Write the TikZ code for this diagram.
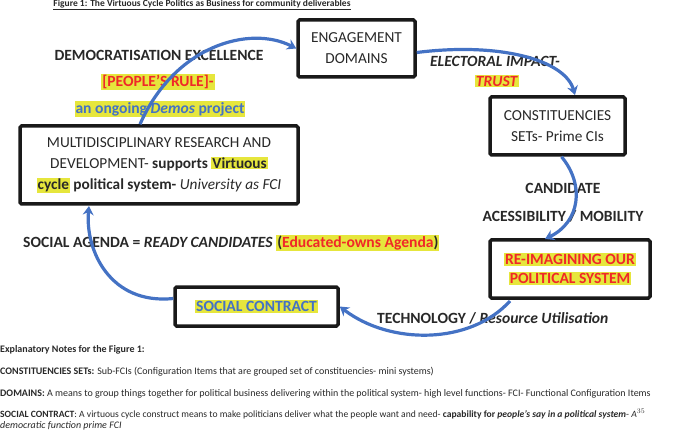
\documentclass[tikz,border=0pt]{standalone}
\usepackage{fontspec}
\setmainfont{Carlito}
\usetikzlibrary{arrows.meta}
\definecolor{hl}{RGB}{230,230,60}
\definecolor{ablue}{RGB}{68,114,196}
\definecolor{tred}{RGB}{240,40,40}
\definecolor{tgray}{RGB}{40,40,40}
\newcommand{\hlt}[1]{\colorbox{hl}{#1}}
\begin{document}
\begin{tikzpicture}[x=1pt,y=-1pt,
  box/.style={draw=black!90,line width=3.5pt,rounded corners=1.5pt,inner sep=0pt,align=center,font=\fontsize{15.3}{21}\selectfont,text=tgray},
  cyc/.style={draw=ablue,line width=3.2pt,-{Stealth[length=9pt,width=11pt]}},
  lab/.style={font=\fontsize{15.6}{18}\selectfont\bfseries,text=tgray,inner sep=0pt},
  note/.style={font=\fontsize{10}{12}\selectfont,anchor=west,inner sep=0pt,text=tgray}]
\useasboundingbox (0,0) rectangle (685,430);
\setlength{\fboxsep}{1pt}
\node[font=\fontsize{9.5}{10}\selectfont\bfseries,text=tgray,inner sep=0pt] (title) at (202,5) {\underline{Figure 1: The Virtuous Cycle Politics as Business for community deliverables}};

\node[box,minimum width=117pt,minimum height=57pt] (eng) at (356.5,48.5) {ENGAGEMENT\\DOMAINS};
\node[box,minimum width=135pt,minimum height=58pt] (con) at (557.5,126) {CONSTITUENCIES\\SETs- Prime CIs};
\node[box,minimum width=278pt,minimum height=78pt] (mul) at (159,165) {MULTIDISCIPLINARY RESEARCH AND\\DEVELOPMENT- \textbf{supports \hlt{Virtuous}}\\\textbf{\hlt{cycle} political system-} \textit{University as FCI}};
\node[box,minimum width=160pt,minimum height=58pt,font=\fontsize{15.6}{19}\selectfont\bfseries] (rei) at (570,269) {\textcolor{tred}{\hlt{RE-IMAGINING OUR}}\\[0pt]\textcolor{tred}{\hlt{POLITICAL SYSTEM}}};
\node[box,minimum width=163pt,minimum height=39pt,font=\fontsize{15.6}{19}\selectfont\bfseries] (soc) at (256.5,306.5) {\textcolor{ablue}{\hlt{SOCIAL CONTRACT}}};

\node[lab] (dem) at (159,55) {DEMOCRATISATION EXCELLENCE};
\node[lab] (peo) at (158,82) {\hlt{\textcolor{tred}{[PEOPLE'S RULE]-}}};
\node[lab] (ong) at (160,109) {\hlt{\textcolor{ablue}{an ongoing \textit{Demos} project}}};
\node[lab] (ele) at (495,61) {\textit{ELECTORAL IMPACT-}};
\node[lab] (tru) at (497,81) {\hlt{\textcolor{tred}{\textit{TRUST}}}};
\node[lab] (can) at (563,188) {CANDIDATE};
\node[lab] (acc) at (563,216) {ACESSIBILITY / MOBILITY};
\node[lab,anchor=west] (sag) at (23,243) {SOCIAL AGENDA = \textit{READY CANDIDATES} \hlt{(\textcolor{tred}{Educated-owns Agenda})}};
\node[lab,anchor=west] (tec) at (377,318) {TECHNOLOGY / \textit{Resource Utilisation}};

\draw[cyc] ([xshift=-19pt]mul.north) .. controls (175,45) and (250,25) .. (eng.west);
\draw[cyc] ([yshift=-4pt]eng.east) .. controls (500,42) and (565,60) .. (575,95);
\draw[cyc] ([xshift=4pt]con.south) .. controls (585,185) and (580,222) .. (545,239);
\draw[cyc] (510,301) .. controls (470,345) and (390,345) .. (soc.east);
\draw[cyc] ([yshift=8pt]soc.west) .. controls (110,305) and (85,250) .. (89,206);

\node[note,font=\fontsize{10}{12}\selectfont\bfseries] (n0) at (0,350) {Explanatory Notes for the Figure 1:};
\node[note] (n1) at (0,372) {\textbf{CONSTITUENCIES SETs:} Sub-FCIs (Configuration Items that are grouped set of constituencies- mini systems)};
\node[note] (n2) at (0,394) {\textbf{DOMAINS:} A means to group things together for political business delivering within the political system- high level functions- FCI- Functional Configuration Items};
\node[note,font=\fontsize{9.6}{12}\selectfont] (n3) at (0,414) {\textbf{SOCIAL CONTRACT}: A virtuous cycle construct means to make politicians deliver what the people want and need- \textbf{capability for \textit{people’s say in a political system}}- \textit{A}$^{35}$};
\node[note] (n4) at (0,426) {\textit{democratic function prime FCI}};
\end{tikzpicture}
\end{document}
